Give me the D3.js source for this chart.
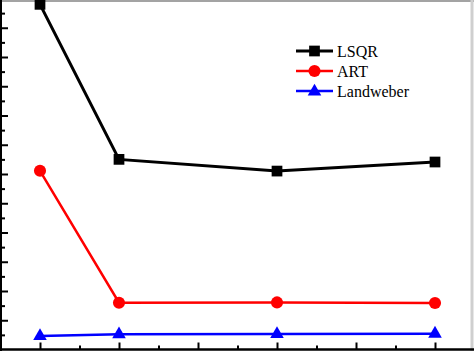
<!DOCTYPE html>
<html>
<head>
<meta charset="utf-8">
<script src="https://cdn.jsdelivr.net/npm/d3@7"></script>
<style>
  html, body { margin: 0; padding: 0; background: #fff; }
  svg { display: block; }
</style>
</head>
<body>
<svg id="chart" width="474" height="351"></svg>
<script>
// data
var xValues = [1, 2, 4, 6];
var seriesNames = ["LSQR", "ART", "Landweber"];
var lsqr = [11.8, 6.50, 6.10, 6.41];
var art = [6.11, 1.60, 1.61, 1.59];
var landweber = [0.46, 0.52, 0.53, 0.54];
var xTicks = [1, 2, 3, 4, 5, 6];
var yTicks = [1, 2, 3, 4, 5, 6, 7, 8, 9, 10, 11, 12];

var width = 474,
    height = 351,
    colors = ["#000000", "#ff0000", "#0000ff"],
    symbols = [d3.symbolSquare, d3.symbolCircle, d3.symbolTriangle],
    symSize = [115, 115, 80];

var svg = d3.select("#chart");

var x = d3.scaleLinear().domain([0.5, 6.5]).range([0.5, 474.5]);
var y = d3.scaleLinear().domain([0, 12]).range([349.5, -1.5]);

var series = [lsqr, art, landweber];

// frame edges (grey)
svg.append("line")
    .attr("x1", 0).attr("x2", width)
    .attr("y1", 1).attr("y2", 1)
    .attr("stroke", "#a3a3a3").attr("stroke-width", 2);
svg.append("line")
    .attr("x1", 472).attr("x2", 472)
    .attr("y1", 0).attr("y2", height)
    .attr("stroke", "#cfcfcf").attr("stroke-width", 3);

// left axis, ticks inward
var yMinor = d3.range(0.5, 12, 1);
svg.append("g")
    .attr("transform", "translate(1,0)")
    .call(d3.axisRight(y).tickValues(yTicks).tickSize(7).tickFormat(""))
    .call(function(g) {
        g.select(".domain").remove();
        g.selectAll("line").attr("stroke", "#000").attr("stroke-width", 2);
    });
svg.append("g")
    .attr("transform", "translate(1,0)")
    .call(d3.axisRight(y).tickValues(yMinor).tickSize(4).tickFormat(""))
    .call(function(g) {
        g.select(".domain").remove();
        g.selectAll("line").attr("stroke", "#000").attr("stroke-width", 2);
    });
svg.append("line")
    .attr("x1", 1).attr("x2", 1)
    .attr("y1", 0).attr("y2", height)
    .attr("stroke", "#000").attr("stroke-width", 2);

// bottom axis, ticks inward
var xMinor = d3.range(1.5, 6.5, 1);
svg.append("g")
    .attr("transform", "translate(0,349.5)")
    .call(d3.axisTop(x).tickValues(xTicks).tickSize(7).tickFormat(""))
    .call(function(g) {
        g.select(".domain").remove();
        g.selectAll("line").attr("stroke", "#000").attr("stroke-width", 2);
    });
svg.append("g")
    .attr("transform", "translate(0,349.5)")
    .call(d3.axisTop(x).tickValues(xMinor).tickSize(4).tickFormat(""))
    .call(function(g) {
        g.select(".domain").remove();
        g.selectAll("line").attr("stroke", "#000").attr("stroke-width", 2);
    });
svg.append("line")
    .attr("x1", 0).attr("x2", width)
    .attr("y1", 349.5).attr("y2", 349.5)
    .attr("stroke", "#000").attr("stroke-width", 2.5);

// lines + markers
var line = d3.line()
    .x(function(d, i) { return x(xValues[i]); })
    .y(function(d) { return y(d); });

series.forEach(function(vals, k) {
    svg.append("path")
        .datum(vals)
        .attr("d", line)
        .attr("fill", "none")
        .attr("stroke", colors[k])
        .attr("stroke-width", k == 0 ? 3 : 2.5);
    svg.selectAll(".m" + k)
        .data(vals)
        .enter()
        .append("path")
        .attr("class", "m" + k)
        .attr("transform", function(d, i) { return "translate(" + x(xValues[i]) + "," + y(d) + ")"; })
        .attr("d", d3.symbol().type(symbols[k]).size(symSize[k]))
        .attr("fill", colors[k]);
});

// legend
var legend = svg.append("g").attr("transform", "translate(296,51)");
seriesNames.forEach(function(name, k) {
    var g = legend.append("g").attr("transform", "translate(0," + k * 20 + ")");
    g.append("line")
        .attr("x1", 0).attr("x2", 37)
        .attr("y1", 0).attr("y2", 0)
        .attr("stroke", colors[k])
        .attr("stroke-width", k == 0 ? 3 : 2.5);
    g.append("path")
        .attr("transform", "translate(18.5," + (k == 2 ? 0.5 : 0) + ")")
        .attr("d", d3.symbol().type(symbols[k]).size(symSize[k]))
        .attr("fill", colors[k]);
    g.append("text")
        .attr("x", 41)
        .attr("y", 5.5)
        .attr("font-family", "'Liberation Serif', 'Times New Roman', serif")
        .attr("font-size", "16px")
        .attr("fill", "#000")
        .text(name);
});
</script>
</body>
</html>
